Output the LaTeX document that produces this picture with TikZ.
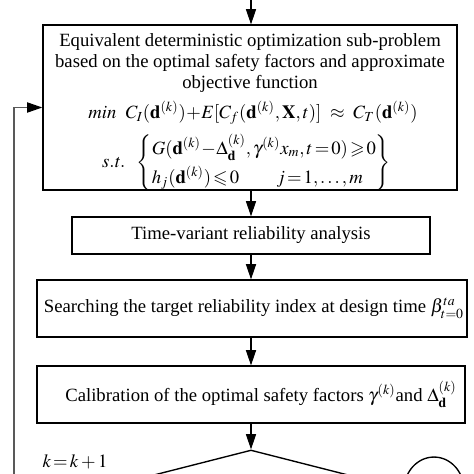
\documentclass[tikz,border=0pt]{standalone}
\usepackage{amsmath,amssymb}
\usepackage{mathptmx}
\usepackage{fontspec}
\setmainfont{Liberation Serif}
\usetikzlibrary{arrows.meta,shapes.geometric}

\tikzset{
  procbox/.style={draw, line width=0.8pt, inner sep=0pt},
  flow/.style={line width=0.6pt, -{Triangle[length=9pt,width=6pt]}},
  loopline/.style={line width=0.9pt, draw=black!65, -{Triangle[length=9pt,width=6pt,color=black]}}
}

\begin{document}
\begin{tikzpicture}[x=0.5886pt, y=-0.5886pt, every node/.append style={font=\fontsize{11}{12.4}\selectfont, inner sep=0.5pt}]
\useasboundingbox (0,0) rectangle (474,474);
\clip (0,0) rectangle (474,474);

% boxes
\node[procbox, minimum width=243.7pt, minimum height=97.1pt] (opt) at (250,107.5) {};
\node[procbox, minimum width=210.7pt, minimum height=21.8pt] (tvra) at (251,235.5) {};
\node[procbox, minimum width=253.1pt, minimum height=33.5pt] (target) at (252,308.5) {};
\node[procbox, minimum width=251.9pt, minimum height=33.5pt] (calib) at (251,394.5) {};
\node[procbox, shape=diamond, minimum width=137.7pt, minimum height=35.3pt] (check) at (251,480) {};
\node[procbox, shape=ellipse, minimum width=35.3pt, minimum height=38.8pt] (stop) at (434,490) {};

% texts
\node[align=center] (optTitle) at (250,63) {Equivalent deterministic optimization sub-problem\\
based on the optimal safety factors and approximate\\ objective function};
\node (optMin) at (253,113) {$\mathit{min}\ \ C_I(\mathbf{d}^{(k)})\!+\!E[C_f(\mathbf{d}^{(k)},\mathbf{X},t)]\ \approx\ C_T(\mathbf{d}^{(k)})$};
\node[anchor=west] (optSt) at (101,163) {$\mathit{s.t.}\ \ \left\{\renewcommand{\arraystretch}{1.4}\begin{array}{@{}l@{}}
  G(\mathbf{d}^{(k)}\!-\!\Delta_{\mathbf{d}}^{(k)},\boldsymbol{\gamma}^{(k)}x_m,t\!=\!0)\!\geqslant\! 0\\
  h_j(\mathbf{d}^{(k)})\!\leqslant\! 0\qquad j\!=\!1,\ldots,m
\end{array}\right\}$};
\node (tvraText) at (251,235.5) {Time-variant reliability analysis};
\node (targetText) at (254,308.5) {Searching the target reliability index at design time $\beta^{ta}_{t=0}$};
\node (calibText) at (261,394.5) {Calibration of the optimal safety factors $\gamma^{(k)}$and $\Delta_{\mathbf{d}}^{(k)}$};
\node (update) at (75,462) {$k\!=\!k+1$};

% connectors
\coordinate (topIn) at (251,-5);
\coordinate (loopStart) at (14,530);
\draw[flow] (topIn) -- (opt.north -| topIn);
\draw[flow] (opt.south -| tvra.north) -- (tvra.north);
\draw[flow] (tvra.south) -- (target.north -| tvra.south);
\draw[flow] (target.south -| calib.north) -- (calib.north);
\draw[flow] (calib.south) -- (check.north);
\draw[loopline] (loopStart) |- (opt.west);
\end{tikzpicture}
\end{document}
